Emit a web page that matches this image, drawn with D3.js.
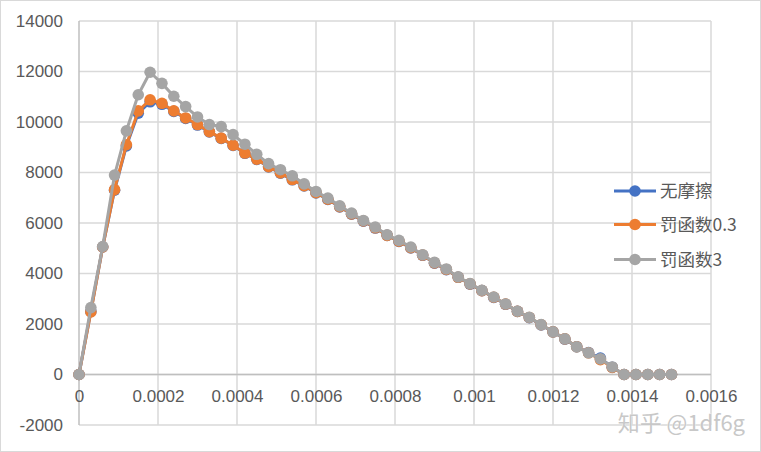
<!DOCTYPE html>
<html><head><meta charset="utf-8">
<script src="https://cdn.jsdelivr.net/npm/d3@7"></script>
<style>body{margin:0;background:#fff}svg{display:block}</style>
</head><body>
<svg id="c" width="761" height="452"></svg>
<script>
const xStep = 0.00003;
const seriesNames = ["无摩擦", "罚函数0.3", "罚函数3"];
const seriesColors = ["#4472C4", "#ED7D31", "#A5A5A5"];
const noFriction = [0,2500,5050,7300,9050,10350,10800,10700,10420,10140,9880,9610,9350,9070,8760,8520,8220,7970,7710,7470,7190,6930,6640,6350,6070,5800,5510,5270,5010,4720,4410,4150,3850,3580,3320,3050,2780,2500,2250,1960,1690,1400,1100,870,650,290,0,0,0,0,0];
const penalty03 = [0,2480,5050,7320,9100,10440,10880,10740,10440,10160,9900,9620,9360,9080,8770,8530,8230,7980,7720,7480,7200,6940,6650,6360,6080,5810,5510,5280,5020,4730,4420,4160,3850,3590,3320,3060,2790,2500,2260,1970,1690,1410,1100,860,590,280,0,0,0,0,0];
const penalty3 = [0,2650,5070,7900,9650,11080,11970,11530,11020,10610,10200,9900,9820,9500,9120,8720,8350,8110,7870,7550,7250,6985,6680,6390,6100,5840,5535,5310,5050,4745,4440,4180,3865,3600,3335,3070,2795,2505,2265,1975,1690,1410,1095,860,620,300,0,0,0,0,0];
const xTicks = [0,0.0002,0.0004,0.0006,0.0008,0.001,0.0012,0.0014,0.0016];
const yTicks = [-2000,0,2000,4000,6000,8000,10000,12000,14000];

const svg = d3.select("#c");
const font = "'Liberation Sans', Arial, sans-serif";
svg.append("rect").attr("x",0.5).attr("y",0.5).attr("width",760).attr("height",451)
  .attr("fill","#fff").attr("stroke","#D9D9D9");

const x = d3.scaleLinear().domain([0,0.0016]).range([79,711]);
const y = d3.scaleLinear().domain([-2000,14000]).range([425,21]);

// gridlines
svg.append("g").selectAll("line.h").data(yTicks).join("line")
  .attr("x1",x(0)).attr("x2",x(0.0016)).attr("y1",d=>y(d)).attr("y2",d=>y(d))
  .attr("stroke","#D9D9D9").attr("stroke-width",1.5);
svg.append("g").selectAll("line.v").data(xTicks.slice(1)).join("line")
  .attr("x1",d=>x(d)).attr("x2",d=>x(d)).attr("y1",y(14000)).attr("y2",y(-2000))
  .attr("stroke","#D9D9D9").attr("stroke-width",1.5);

// axes lines
svg.append("line").attr("x1",x(0)).attr("x2",x(0)).attr("y1",y(14000)).attr("y2",y(-2000))
  .attr("stroke","#BFBFBF").attr("stroke-width",1.5);
svg.append("line").attr("x1",x(0)).attr("x2",x(0.0016)).attr("y1",y(0)).attr("y2",y(0))
  .attr("stroke","#BFBFBF").attr("stroke-width",1.5);

// y labels
const yAxis = d3.axisLeft(y).tickValues(yTicks).tickSize(0).tickPadding(0).tickFormat(d=>String(d));
const ya = svg.append("g").attr("transform","translate(63,0)").call(yAxis);
ya.select(".domain").remove();
ya.selectAll("text").attr("font-family",font).attr("font-size",17).attr("fill","#595959");

// x labels
const xAxis = d3.axisBottom(x).tickValues(xTicks).tickSize(0).tickPadding(0).tickFormat(d=>String(+d.toFixed(4)));
const xa = svg.append("g").attr("transform",`translate(0,${y(0)+15})`).call(xAxis);
xa.select(".domain").remove();
xa.selectAll("text").attr("font-family",font).attr("font-size",17).attr("fill","#595959");

const allSeries = [noFriction, penalty03, penalty3];
const line = d3.line().x((d,i)=>x(i*xStep)).y(d=>y(d));
allSeries.forEach((vals,k)=>{
  const g = svg.append("g");
  g.append("path").datum(vals).attr("d",line).attr("fill","none")
    .attr("stroke",seriesColors[k]).attr("stroke-width",3).attr("stroke-linejoin","round");
  g.selectAll("circle").data(vals).join("circle")
    .attr("cx",(d,i)=>x(i*xStep)).attr("cy",d=>y(d)).attr("r",5.8).attr("fill",seriesColors[k]);
});

// legend
const legY = [191, 224.5, 259.5];
seriesNames.forEach((n,k)=>{
  const g = svg.append("g");
  g.append("line").attr("x1",614).attr("x2",656).attr("y1",legY[k]).attr("y2",legY[k])
    .attr("stroke",seriesColors[k]).attr("stroke-width",3);
  g.append("circle").attr("cx",635).attr("cy",legY[k]).attr("r",5.8).attr("fill",seriesColors[k]);
  g.append("text").attr("x",660).attr("y",legY[k]).attr("dy","0.35em")
    .attr("font-family","'Noto Sans CJK SC', sans-serif").attr("font-size",17.5).attr("fill","#595959").text(n);
});

// watermark
svg.append("text").attr("x",745).attr("y",431).attr("text-anchor","end")
  .attr("font-family","'Noto Sans CJK SC', sans-serif").attr("font-size",22)
  .attr("fill","#c8c8c8").attr("stroke","#ffffff").attr("stroke-width",0.6).attr("paint-order","stroke")
  .text("知乎 @1df6g");
</script>
</body></html>
